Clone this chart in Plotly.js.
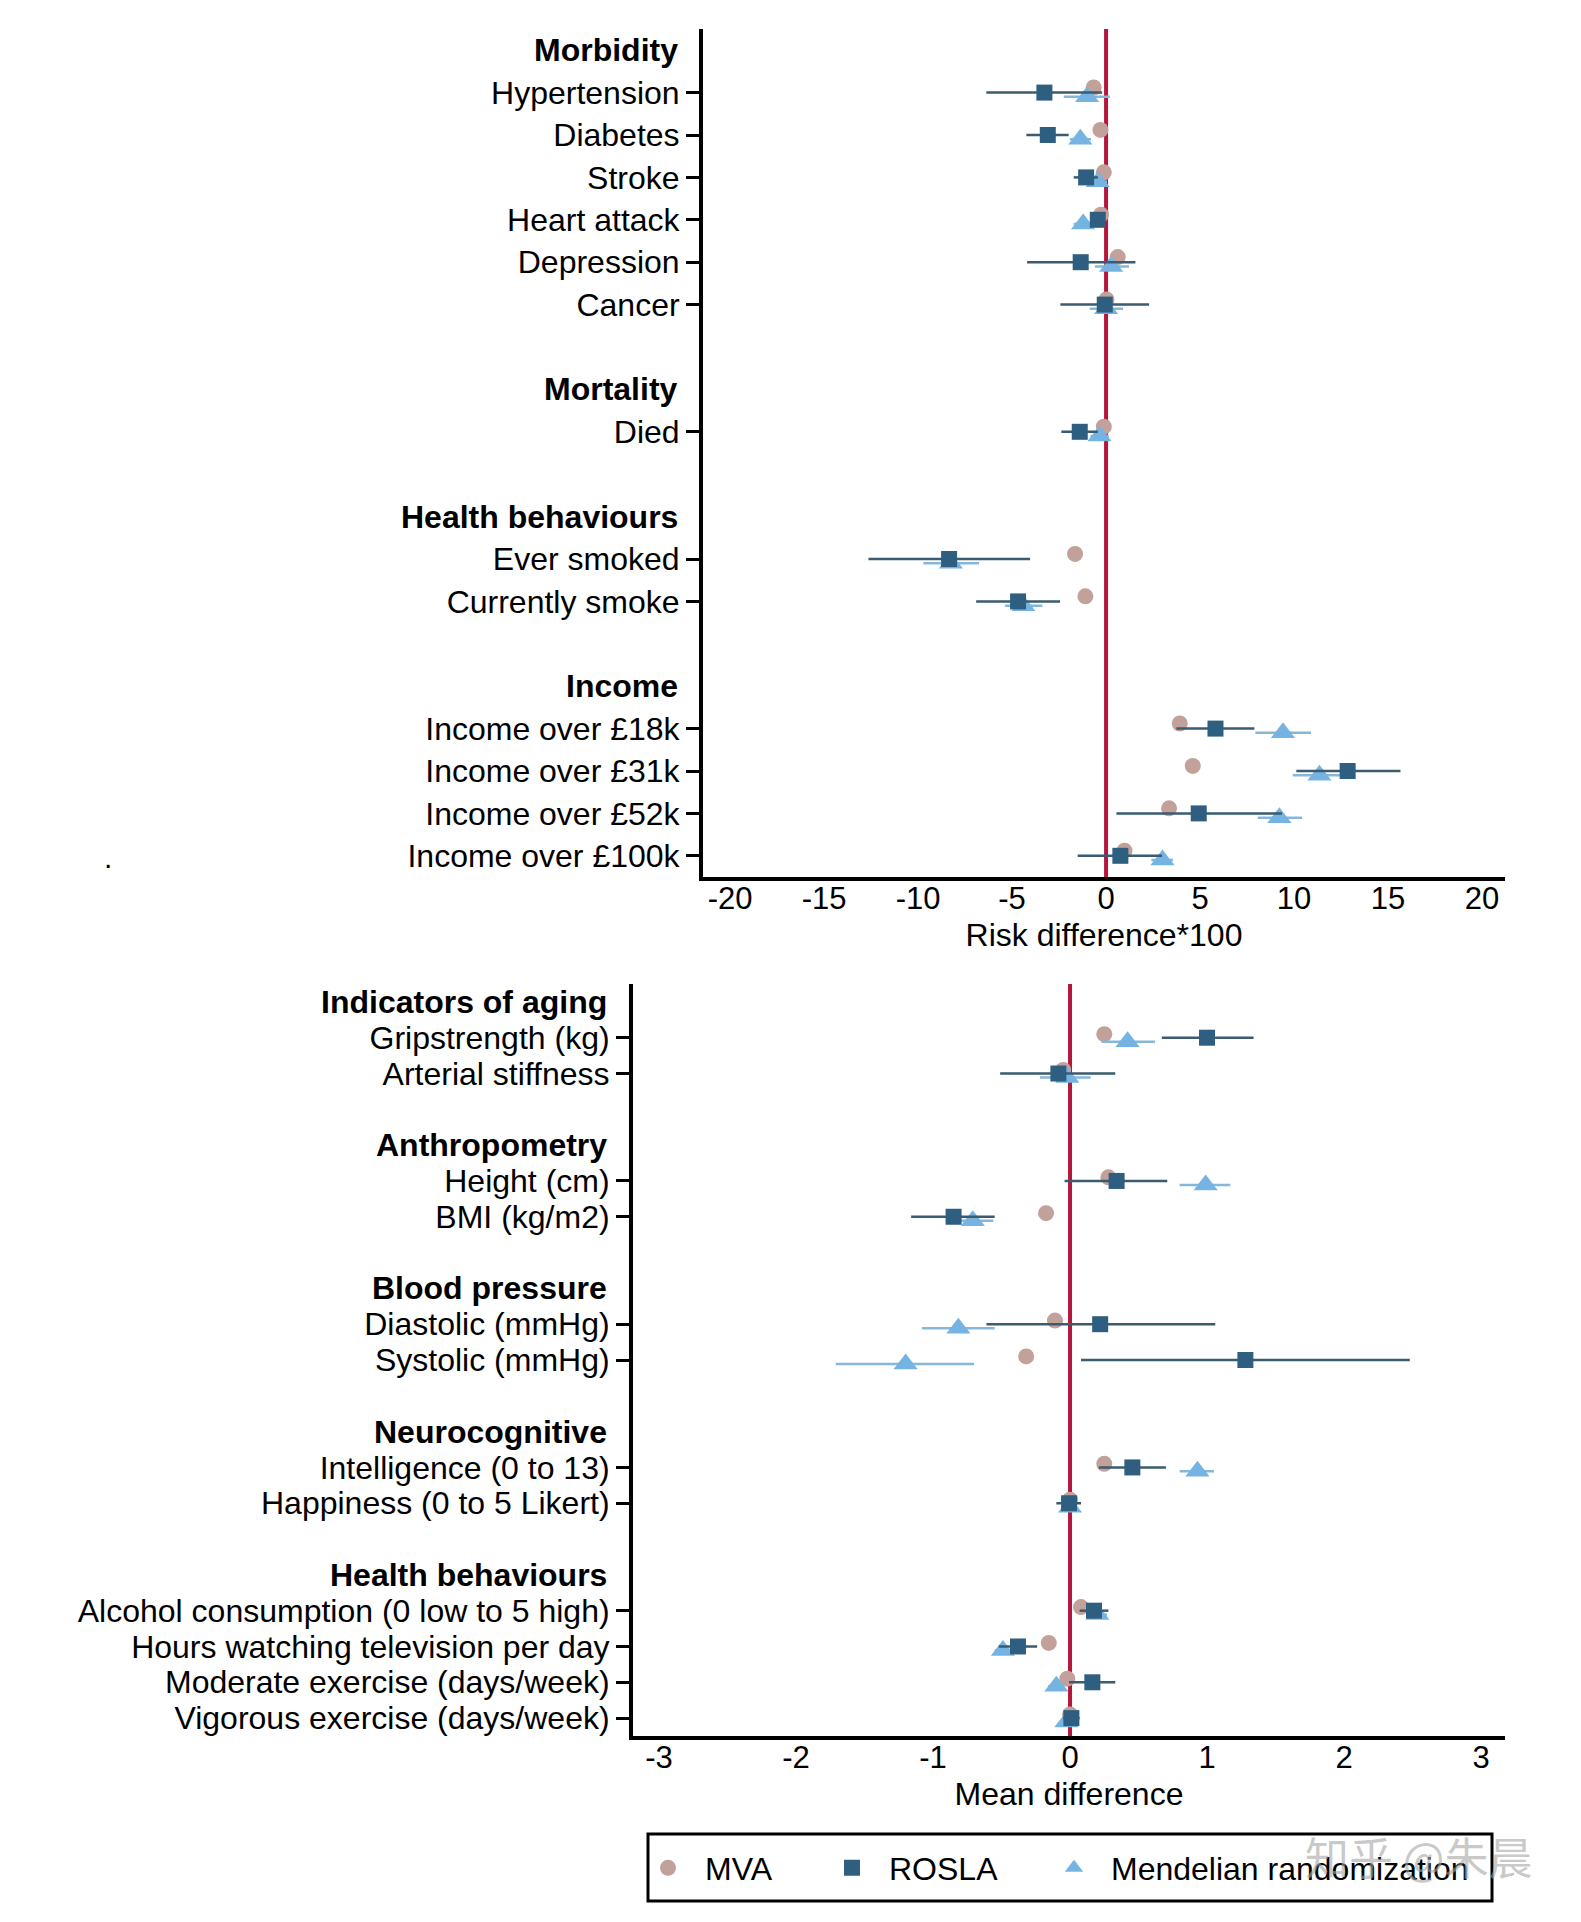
<!DOCTYPE html>
<html>
<head>
<meta charset="utf-8">
<script src="https://cdn.plot.ly/plotly-3.0.1.min.js"></script>
<style>html,body{margin:0;padding:0;background:#fff;}#chart{width:1581px;height:1922px;}</style>
</head>
<body>
<div id="chart"></div>
<script>
// ---------------- DATA ----------------
// Top panel: risk difference * 100
const topLabels = ["Hypertension","Diabetes","Stroke","Heart attack","Depression","Cancer","Died",
  "Ever smoked","Currently smoke","Income over £18k","Income over £31k","Income over £52k","Income over £100k"];
const topRows = [1,2,3,4,5,6,9,12,13,16,17,18,19];
const topHeaders = ["Morbidity","Mortality","Health behaviours","Income"];
const topHeaderRows = [0,8,11,15];

const topMVA      = [-0.66,-0.30,-0.12,-0.27, 0.62, 0.02,-0.12,-1.65,-1.10, 3.92, 4.61, 3.35, 0.98];
const topROSLA    = [-3.28,-3.10,-1.06,-0.44,-1.35,-0.07,-1.40,-8.35,-4.68, 5.82,12.85, 4.93, 0.76];
const topROSLAlo  = [-6.37,-4.24,-1.72,-0.80,-4.20,-2.43,-2.38,-12.64,-6.91, 3.74,10.12, 0.55,-1.51];
const topROSLAhi  = [-0.21,-1.99,-0.44,-0.08, 1.56, 2.29,-0.44,-4.04,-2.45, 7.89,15.66, 9.36, 2.98];
const topMR       = [-1.01,-1.37,-0.44,-1.22, 0.27, 0.00,-0.35,-8.26,-4.40, 9.41,11.35, 9.22, 3.00];
const topMRlo     = [-2.25,-1.93,-0.98,-1.72,-0.60,-0.87,-0.83,-9.72,-5.37, 7.94, 9.93, 8.07, 2.41];
const topMRhi     = [ 0.20,-0.80, 0.05,-0.71, 1.22, 0.90, 0.14,-6.76,-3.39,10.90,12.55,10.43, 3.56];
const topTicks    = [-20,-15,-10,-5,0,5,10,15,20];

// Bottom panel: mean difference
const botLabels = ["Gripstrength (kg)","Arterial stiffness","Height (cm)","BMI (kg/m2)",
  "Diastolic (mmHg)","Systolic (mmHg)","Intelligence (0 to 13)","Happiness (0 to 5 Likert)",
  "Alcohol consumption (0 low to 5 high)","Hours watching television per day",
  "Moderate exercise (days/week)","Vigorous exercise (days/week)"];
const botRows = [1,2,5,6,9,10,13,14,17,18,19,20];
const botHeaders = ["Indicators of aging","Anthropometry","Blood pressure","Neurocognitive","Health behaviours"];
const botHeaderRows = [0,4,8,12,16];

const botMVA      = [ 0.25,-0.05, 0.28,-0.175,-0.11,-0.32, 0.25, 0.00, 0.08,-0.155,-0.02, 0.00];
const botROSLA    = [ 1.00,-0.085,0.34,-0.85, 0.22, 1.28, 0.455,-0.007,0.175,-0.38, 0.163,0.01];
const botROSLAlo  = [ 0.67,-0.51,-0.04,-1.16,-0.61, 0.08, 0.21,-0.10, 0.07,-0.52,-0.007,-0.05];
const botROSLAhi  = [ 1.34, 0.33, 0.71,-0.55, 1.06, 2.48, 0.70, 0.08, 0.28,-0.24, 0.33, 0.07];
const botMR       = [ 0.42,-0.02, 0.99,-0.71,-0.815,-1.20,0.93, 0.00, 0.20,-0.49,-0.10,-0.027];
const botMRlo     = [ 0.23,-0.22, 0.80,-0.80,-1.08,-1.71, 0.80,-0.05, 0.13,-0.55,-0.16,-0.07];
const botMRhi     = [ 0.62, 0.15, 1.17,-0.56,-0.55,-0.70, 1.05, 0.05, 0.27,-0.43,-0.04, 0.02];
const botTicks    = [-3,-2,-1,0,1,2,3];

const seriesNames = ["MVA","ROSLA","Mendelian randomization"];

// ---------------- STYLE ----------------
const W = 1581, H = 1922;
const FONT = "Liberation Sans, Arial, Helvetica, sans-serif";
const LABEL_SIZE = 32;
const cMVA = "#c3a19b", cROSLA = "#2e5f80", cMR = "#75b4e2";
const cROSLAci = "#3a5b71", cMRci = "#86b7db";
const cRed = "#b5163c";

function px2x(p){ return p / W; }
function px2y(p){ return 1 - p / H; }
function shift(rows, d){ return rows.map(r => r + d); }
function plus(hi, v){ return hi.map((h,i) => h - v[i]); }
function minus(v, lo){ return v.map((x,i) => x - lo[i]); }

function panelTraces(xa, ya, rows, mva, rosla, rlo, rhi, mr, mlo, mhi, offC, offT, legend){
  return [
    { type:"scatter", mode:"markers", name:seriesNames[0], x:mva, y:shift(rows,offC),
      xaxis:xa, yaxis:ya, showlegend:legend, legend:"legend",
      marker:{symbol:"circle", size:16, color:cMVA}, hoverinfo:"x+name" },
    { type:"scatter", mode:"markers", name:seriesNames[2], x:mr, y:shift(rows,offT),
      xaxis:xa, yaxis:ya, showlegend:legend, legend:"legend3",
      marker:{symbol:"triangle-up", size:21, color:cMR},
      error_x:{type:"data", symmetric:false, array:plus(mhi,mr), arrayminus:minus(mr,mlo),
        color:cMRci, thickness:2.5, width:0}, hoverinfo:"x+name" },
    { type:"scatter", mode:"markers", name:seriesNames[1], x:rosla, y:rows,
      xaxis:xa, yaxis:ya, showlegend:legend, legend:"legend2",
      marker:{symbol:"square", size:16, color:cROSLA},
      error_x:{type:"data", symmetric:false, array:plus(rhi,rosla), arrayminus:minus(rosla,rlo),
        color:cROSLAci, thickness:2.5, width:0}, hoverinfo:"x+name" }
  ];
}

const data = [].concat(
  panelTraces("x","y", topRows, topMVA, topROSLA, topROSLAlo, topROSLAhi, topMR, topMRlo, topMRhi, -0.12, 0.10, true),
  panelTraces("x2","y2", botRows, botMVA, botROSLA, botROSLAlo, botROSLAhi, botMR, botMRlo, botMRhi, -0.10, 0.11, false)
);

// panel pixel geometry
const topP = {left:703, right:1505, top:29, bottom:877};
const botP = {left:633, right:1505, top:984, bottom:1736};

function xaxisDef(p, range, ticks, title){
  return {
    domain:[px2x(p.left), px2x(p.right)], range:range,
    tickmode:"array", tickvals:ticks, ticktext:ticks.map(String),
    ticks:"", showgrid:false, zeroline:false, showline:true, linecolor:"#000", linewidth:4,
    ticklabelstandoff:-9,
    tickfont:{family:FONT, size:31, color:"#000"}, automargin:false,
    title:{text:title, font:{family:FONT, size:LABEL_SIZE, color:"#000"}, standoff:9}
  };
}
function yaxisDef(p, range, rows, labels){
  return {
    domain:[px2y(p.bottom), px2y(p.top)], range:range, autorange:false,
    tickmode:"array", tickvals:rows, ticktext:labels,
    ticks:"outside", ticklen:13, tickwidth:3, tickcolor:"#000",
    showgrid:false, zeroline:false, showline:true, linecolor:"#000", linewidth:4,
    tickfont:{family:FONT, size:LABEL_SIZE, color:"#000"}, automargin:false
  };
}

function legendDef(symbolX){
  return {orientation:"h", x:px2x(symbolX - 39), y:px2y(1868), xanchor:"left", yanchor:"middle",
    borderwidth:0, bgcolor:"rgba(0,0,0,0)", itemwidth:64,
    font:{family:FONT, size:LABEL_SIZE, color:"#000"}};
}

const layout = {
  width:W, height:H, margin:{l:0,r:0,t:0,b:0},
  paper_bgcolor:"#fff", plot_bgcolor:"#fff",
  font:{family:FONT, color:"#000"},
  xaxis: Object.assign(xaxisDef(topP, [-21.44, 21.22], topTicks, "Risk difference*100"), {anchor:"y"}),
  yaxis: Object.assign(yaxisDef(topP, [19.5, -0.5], topRows, topLabels), {anchor:"x"}),
  xaxis2: Object.assign(xaxisDef(botP, [-3.19, 3.175], botTicks, "Mean difference"), {anchor:"y2"}),
  yaxis2: Object.assign(yaxisDef(botP, [20.5, -0.5], botRows, botLabels), {anchor:"x2"}),
  shapes:[
    {type:"line", xref:"x", yref:"y domain", x0:0, x1:0, y0:0, y1:1, layer:"below",
     line:{color:cRed, width:4}},
    {type:"line", xref:"x2", yref:"y2 domain", x0:0, x1:0, y0:0, y1:1, layer:"below",
     line:{color:cRed, width:4}},
    // legend frame
    {type:"rect", xref:"paper", yref:"paper", x0:px2x(648), x1:px2x(1492), y0:px2y(1901), y1:px2y(1834),
     line:{color:"#000", width:3}, fillcolor:"rgba(0,0,0,0)", layer:"below"}
  ],
  annotations:[],
  showlegend:true,
  legend: legendDef(670),
  legend2: legendDef(854),
  legend3: legendDef(1076)
};

topHeaders.forEach((h,i) => layout.annotations.push({
  text:"<b>"+h+"</b>", xref:"paper", yref:"y", x:px2x(680), y:topHeaderRows[i],
  xanchor:"right", yanchor:"middle", showarrow:false,
  font:{family:FONT, size:LABEL_SIZE, color:"#000"}
}));
botHeaders.forEach((h,i) => layout.annotations.push({
  text:"<b>"+h+"</b>", xref:"paper", yref:"y2", x:px2x(609), y:botHeaderRows[i],
  xanchor:"right", yanchor:"middle", showarrow:false,
  font:{family:FONT, size:LABEL_SIZE, color:"#000"}
}));
// stray dot present in the original figure
layout.annotations.push({text:".", xref:"paper", yref:"paper", x:px2x(108), y:px2y(858),
  xanchor:"center", yanchor:"middle", showarrow:false, font:{family:FONT, size:30, color:"#000"}});
// watermark
layout.annotations.push({text:"知乎 @朱晨", xref:"paper", yref:"paper", x:px2x(1418), y:px2y(1856),
  xanchor:"center", yanchor:"middle", showarrow:false,
  font:{family:"Noto Sans CJK SC, sans-serif", size:44, color:"rgba(165,165,165,0.6)"}});

Plotly.newPlot("chart", data, layout, {staticPlot:true, displayModeBar:false});
</script>
</body>
</html>
